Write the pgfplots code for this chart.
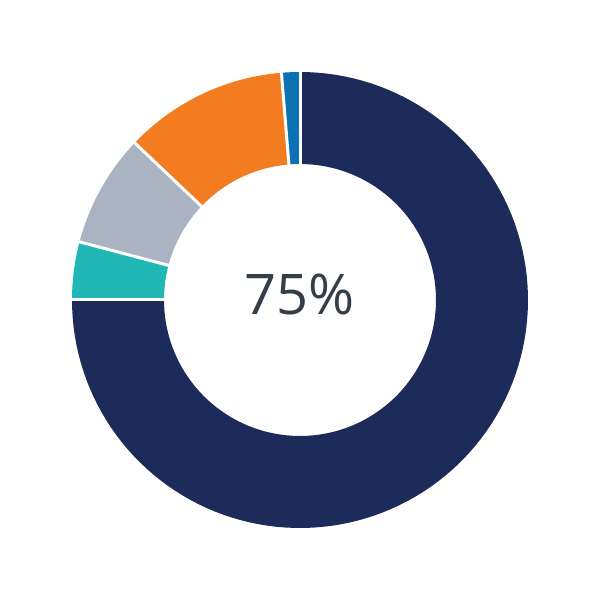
\documentclass[border=0pt]{standalone}
\usepackage{pgfplots}
\pgfplotsset{compat=1.18}
\usepackage{fontspec}
\setmainfont{Open Sans}
\definecolor{cnavy}{HTML}{1C2B5A}
\definecolor{cteal}{HTML}{20B7B5}
\definecolor{cgray}{HTML}{A9B3C1}
\definecolor{corange}{HTML}{F47C20}
\definecolor{cblue}{HTML}{0A72B0}
\definecolor{ctext}{HTML}{333E48}
% slice shares (percent), clockwise from 12 o'clock
\def\vA{75}
\def\vB{4.1}
\def\vC{8.0}
\def\vD{11.6}
\def\vE{1.3}
\begin{document}
\begin{tikzpicture}
\begin{axis}[
  x=0.5pt, y=0.5pt,
  xmin=-300, xmax=300, ymin=-300, ymax=300,
  hide axis, clip=false,
  samples=120,
]
\addplot[draw=none, forget plot] coordinates {(-300,-300) (300,300)};
\pgfmathsetmacro{\aA}{90}
\pgfmathsetmacro{\aB}{\aA-3.6*\vA}
\pgfmathsetmacro{\aC}{\aB-3.6*\vB}
\pgfmathsetmacro{\aD}{\aC-3.6*\vC}
\pgfmathsetmacro{\aE}{\aD-3.6*\vD}
\pgfmathsetmacro{\aF}{\aE-3.6*\vE}
\addplot[draw=cnavy, line width=46pt, domain=\aB:\aA] ({182*cos(x)},{182*sin(x)});
\addplot[draw=cteal, line width=46pt, domain=\aC:\aB, samples=20] ({182*cos(x)},{182*sin(x)});
\addplot[draw=cgray, line width=46pt, domain=\aD:\aC, samples=30] ({182*cos(x)},{182*sin(x)});
\addplot[draw=corange, line width=46pt, domain=\aE:\aD, samples=40] ({182*cos(x)},{182*sin(x)});
\addplot[draw=cblue, line width=46pt, domain=\aF:\aE, samples=5] ({182*cos(x)},{182*sin(x)});
\addplot[white, line width=1.5pt, domain=130:235, samples=2] ({x*cos(\aA)},{x*sin(\aA)});
\addplot[white, line width=1.5pt, domain=130:235, samples=2] ({x*cos(\aB)},{x*sin(\aB)});
\addplot[white, line width=1.5pt, domain=130:235, samples=2] ({x*cos(\aC)},{x*sin(\aC)});
\addplot[white, line width=1.5pt, domain=130:235, samples=2] ({x*cos(\aD)},{x*sin(\aD)});
\addplot[white, line width=1.5pt, domain=130:235, samples=2] ({x*cos(\aE)},{x*sin(\aE)});
\node[text=ctext, font=\fontsize{28}{30}\selectfont, inner sep=0pt, anchor=center] at (axis cs:0,5) {75\%};
\end{axis}
\end{tikzpicture}
\end{document}
